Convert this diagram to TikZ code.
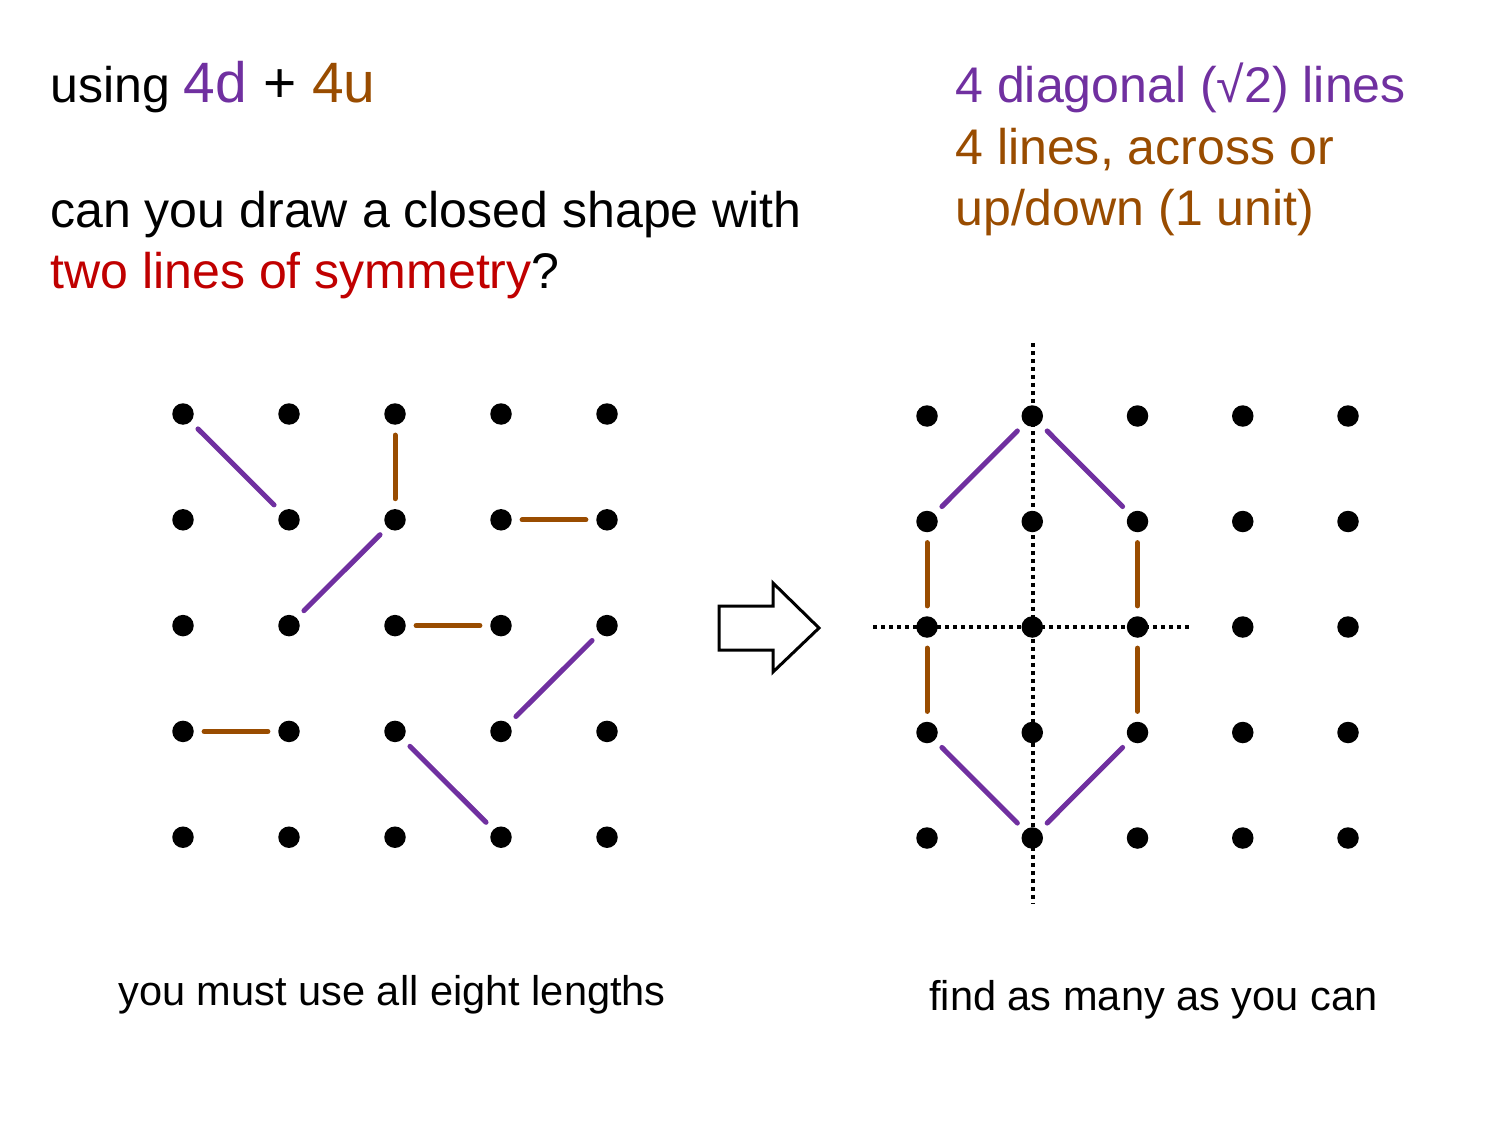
\documentclass[tikz,border=0pt]{standalone}
\usepackage{fontspec}
\setmainfont{Liberation Sans}
\definecolor{diag}{RGB}{112,48,160}
\definecolor{unit}{RGB}{153,76,0}
\definecolor{symm}{RGB}{192,0,0}
\begin{document}
\begin{tikzpicture}[
	x=0.02cm, y=-0.02cm,
	dot/.style={circle, fill=black, inner sep=0pt, minimum size=0.43cm},
	dline/.style={draw=diag, line width=0.1cm, line cap=round, shorten <=0.2cm, shorten >=0.2cm},
	uline/.style={dline, draw=unit},
	symline/.style={draw, line width=0.07cm, dash pattern=on 0.08cm off 0.08cm},
	big/.style={anchor=base west, inner sep=0pt, font=\fontsize{28.5}{34}\selectfont},
	small/.style={anchor=base west, inner sep=0pt, font=\fontsize{23.65}{28}\selectfont}
	]
	\useasboundingbox (0,0) rectangle (1500,1125);
	
	% text
	\node[big] (using) at (50,103) {using {\fontsize{32.4}{38}\selectfont\textcolor{diag}{4d} + \textcolor{unit}{4u}}};
	\node[big] (ask1) at (50,228) {can you draw a closed shape with};
	\node[big] (ask2) at (50,288) {\textcolor{symm}{two lines of symmetry}?};
	\node[big, text=diag] (key1) at (955,103) {4 diagonal (√2) lines};
	\node[big, text=unit] (key2) at (955,165) {4 lines, across or};
	\node[big, text=unit] (key3) at (955,225) {up/down (1 unit)};
	\node[small] (rule) at (118,1005) {you must use all eight lengths};
	\node[small] (task) at (929,1010) {find as many as you can};
	
	% lines of symmetry
	\coordinate (symtop) at (1033,343);
	\coordinate (symbot) at (1033,903);
	\coordinate (symleft) at (873,627);
	\coordinate (symright) at (1190,627);
	\draw[symline] (symtop) -- (symbot);
	\draw[symline] (symleft) -- (symright);
	
	% dot grids
	\foreach \i in {0,...,4}
		\foreach \j in {0,...,4} {
			\node[dot] (L\i\j) at (183+106*\i, 414+105.8*\j) {};
			\node[dot] (R\i\j) at (927+105.25*\i, 416+105.5*\j) {};
		}
	
	% the eight lengths
	\draw[dline] (L00) -- (L11);
	\draw[dline] (L12) -- (L21);
	\draw[dline] (L33) -- (L42);
	\draw[dline] (L23) -- (L34);
	\draw[uline] (L20) -- (L21);
	\draw[uline] (L31) -- (L41);
	\draw[uline] (L22) -- (L32);
	\draw[uline] (L03) -- (L13);
	
	% arrow
	\draw[line width=0.06cm] (719,606) -- (773,606) -- (773,583) -- (819,628)
		-- (773,672) -- (773,650) -- (719,650) -- cycle;
	
	% one answer
	\draw[dline] (R01) -- (R10);
	\draw[dline] (R10) -- (R21);
	\draw[dline] (R03) -- (R14);
	\draw[dline] (R14) -- (R23);
	\draw[uline] (R01) -- (R02);
	\draw[uline] (R02) -- (R03);
	\draw[uline] (R21) -- (R22);
	\draw[uline] (R22) -- (R23);
\end{tikzpicture}
\end{document}
